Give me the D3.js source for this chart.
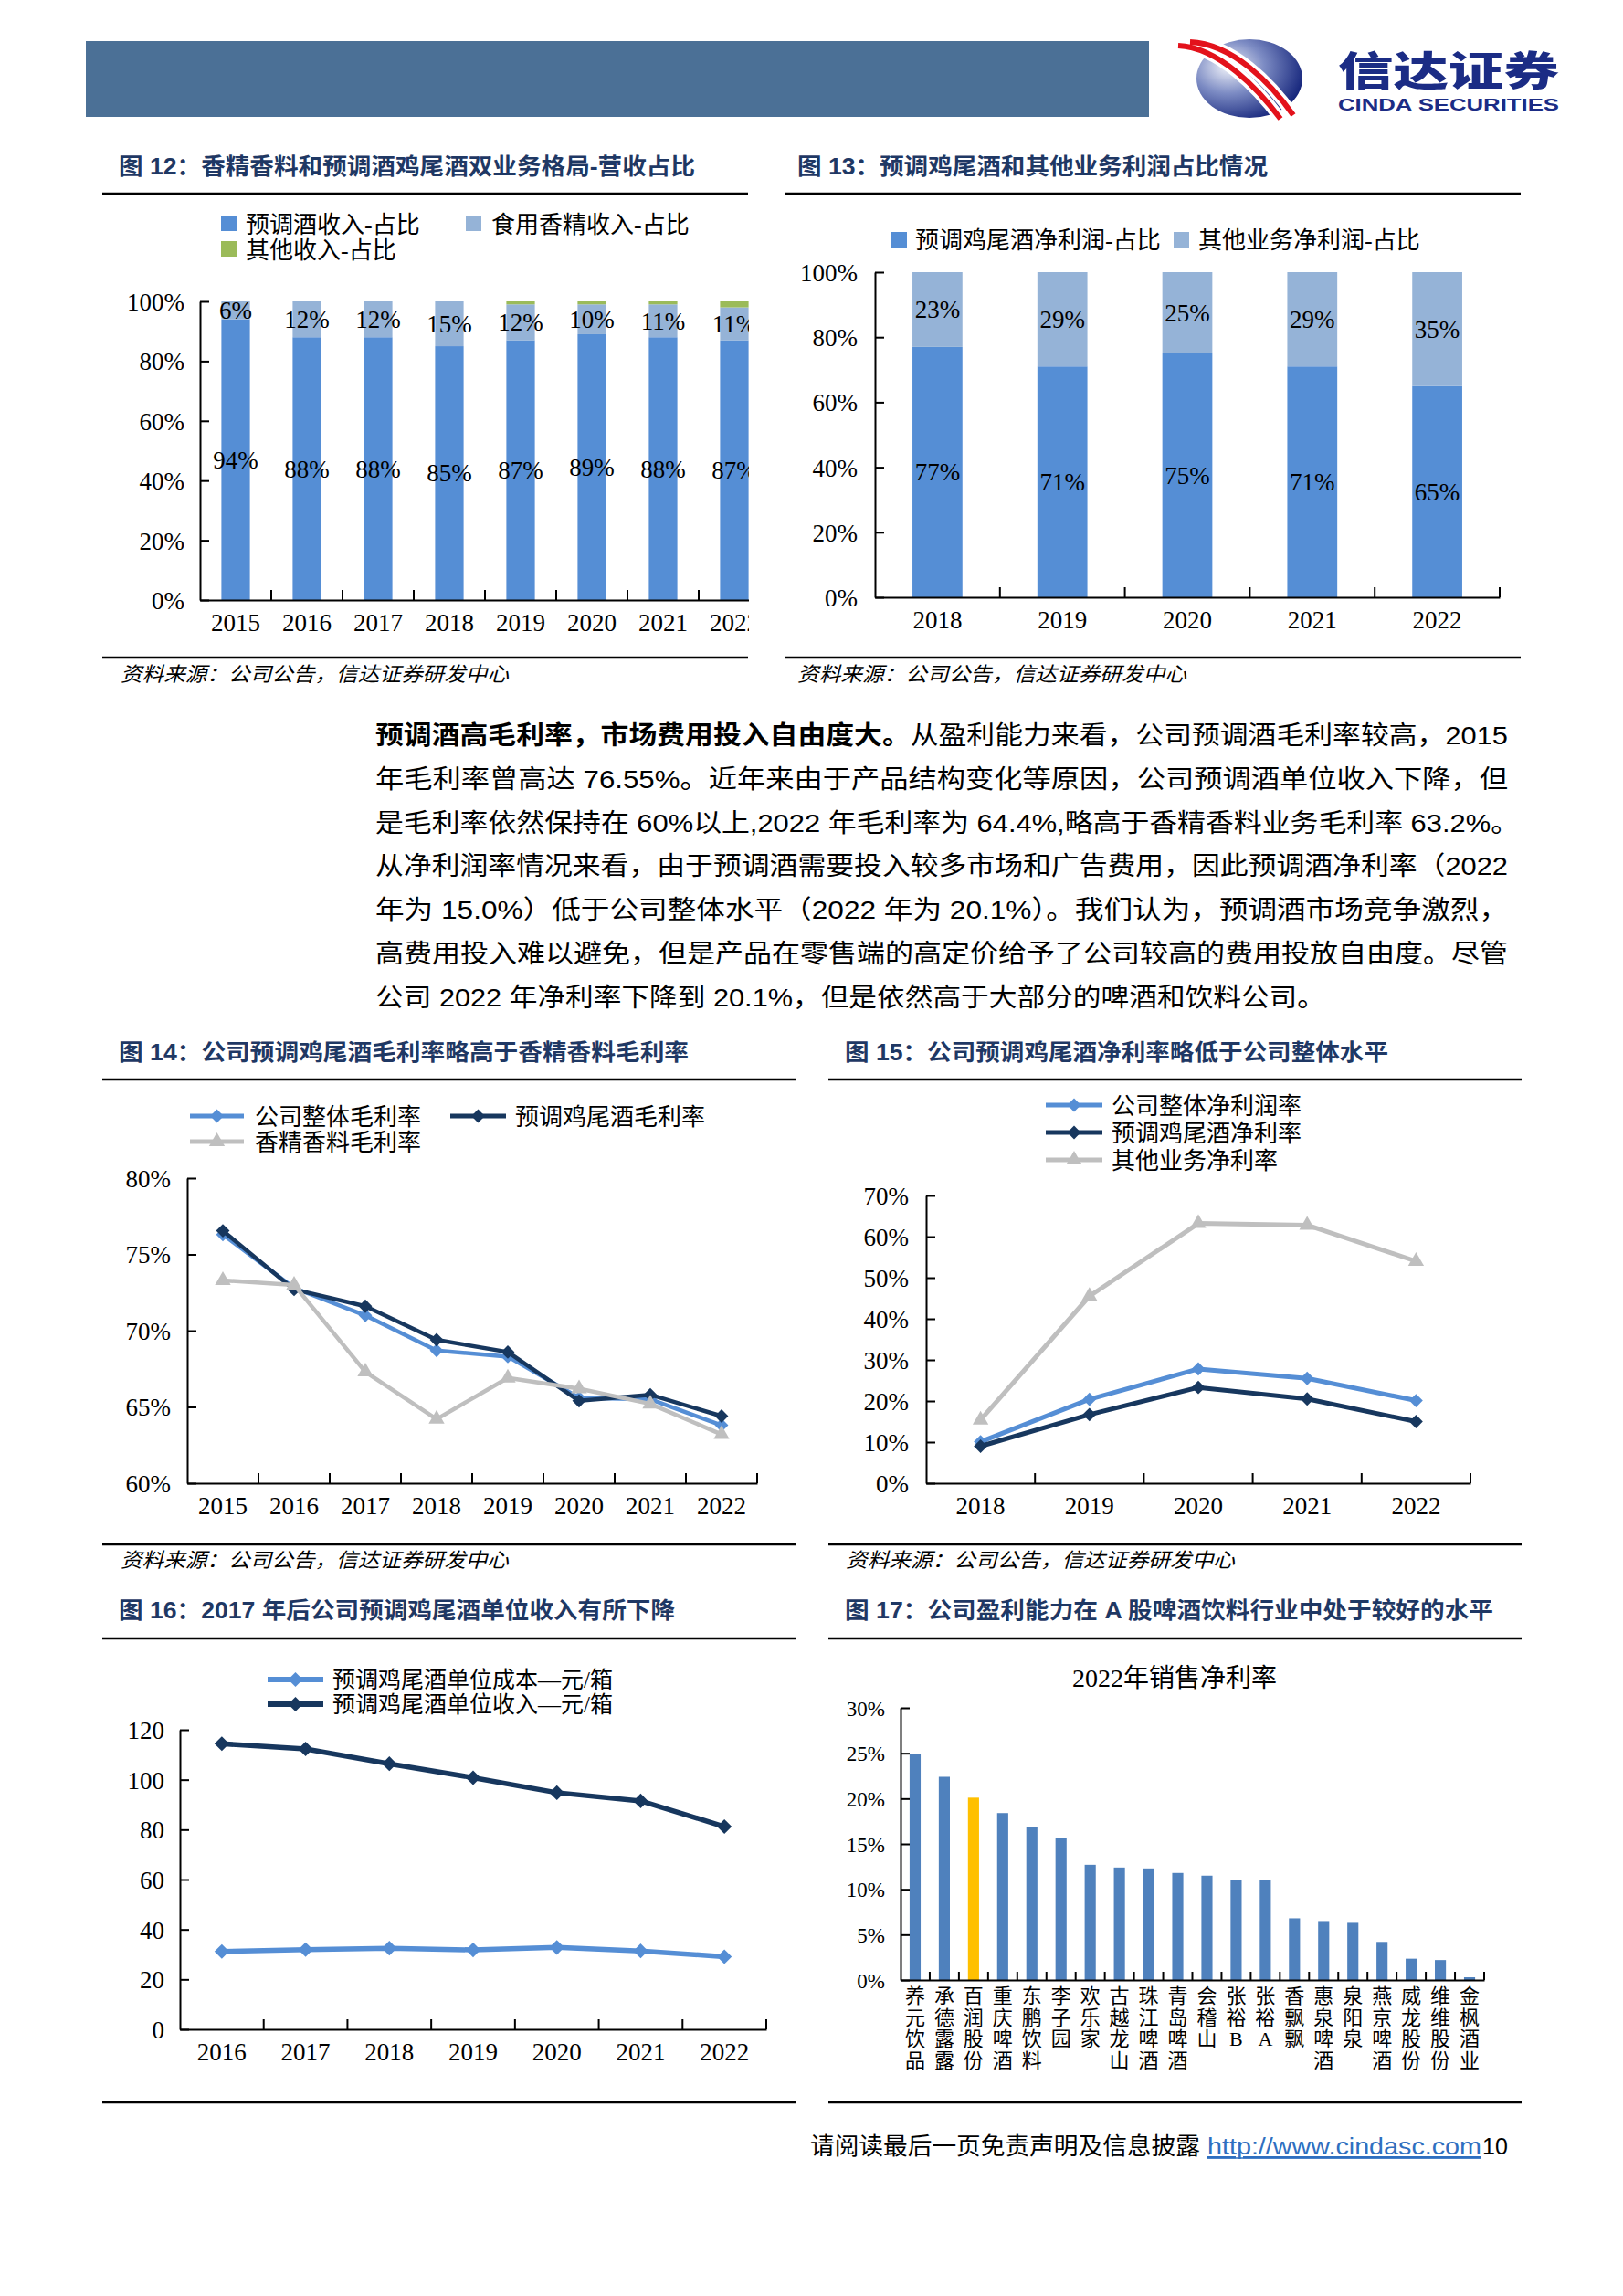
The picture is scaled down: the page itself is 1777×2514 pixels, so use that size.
<!DOCTYPE html>
<html><head><meta charset="utf-8">
<script src="https://cdn.jsdelivr.net/npm/d3@7"></script>
<style>body{margin:0;background:#fff}</style>
</head><body>
<svg id="page" width="1777" height="2514" xmlns="http://www.w3.org/2000/svg"></svg>
<script>
// ---------------- DATA ----------------
const years12 = ["2015","2016","2017","2018","2019","2020","2021","2022"];
const cocktailRev12 = [94,88,88,85,87,89,88,87];
const flavorRev12 = [6,12,12,15,12,10,11,11];
const otherRev12 = [0,0,0,0,1,1,1,2];
const legend12 = ["预调酒收入-占比","食用香精收入-占比","其他收入-占比"];

const years13 = ["2018","2019","2020","2021","2022"];
const cocktailProfit13 = [77,71,75,71,65];
const otherProfit13 = [23,29,25,29,35];
const legend13 = ["预调鸡尾酒净利润-占比","其他业务净利润-占比"];

const years14 = ["2015","2016","2017","2018","2019","2020","2021","2022"];
const overallGM14 = [76.3,72.8,71.0,68.7,68.3,65.6,65.5,63.8];
const cocktailGM14 = [76.55,72.7,71.6,69.4,68.6,65.4,65.8,64.4];
const flavorGM14 = [73.3,73.0,67.3,64.2,66.9,66.2,65.2,63.2];
const legend14 = ["公司整体毛利率","预调鸡尾酒毛利率","香精香料毛利率"];
const yTicks14 = [60,65,70,75,80];

const years15 = ["2018","2019","2020","2021","2022"];
const overallNM15 = [10.1,20.4,27.8,25.5,20.1];
const cocktailNM15 = [9.0,16.7,23.3,20.5,15.0];
const otherNM15 = [15.4,45.5,63.2,62.8,54.0];
const legend15 = ["公司整体净利润率","预调鸡尾酒净利率","其他业务净利率"];
const yTicks15 = [0,10,20,30,40,50,60,70];

const years16 = ["2016","2017","2018","2019","2020","2021","2022"];
const unitCost16 = [31.2,31.9,32.5,31.8,32.8,31.4,29.1];
const unitRevenue16 = [114.4,112.3,106.4,100.8,94.8,91.5,81.2];
const legend16 = ["预调鸡尾酒单位成本—元/箱","预调鸡尾酒单位收入—元/箱"];
const yTicks16 = [0,20,40,60,80,100,120];

const companies17 = ["养元饮品","承德露露","百润股份","重庆啤酒","东鹏饮料","李子园","欢乐家","古越龙山","珠江啤酒","青岛啤酒","会稽山","张裕B","张裕A","香飘飘","惠泉啤酒","泉阳泉","燕京啤酒","威龙股份","维维股份","金枫酒业"];
const netMargin17 = [24.9,22.4,20.1,18.4,16.9,15.7,12.7,12.4,12.3,11.8,11.5,11.0,11.0,6.8,6.5,6.3,4.2,2.35,2.2,0.3];
const highlight17 = "百润股份";
const chartTitle17 = "2022年销售净利率";
const yTicks17 = [0,5,10,15,20,25,30];
const pctTicks = [0,20,40,60,80,100];

const titles = [
  "图 12：香精香料和预调酒鸡尾酒双业务格局-营收占比",
  "图 13：预调鸡尾酒和其他业务利润占比情况",
  "图 14：公司预调鸡尾酒毛利率略高于香精香料毛利率",
  "图 15：公司预调鸡尾酒净利率略低于公司整体水平",
  "图 16：2017 年后公司预调鸡尾酒单位收入有所下降",
  "图 17：公司盈利能力在 A 股啤酒饮料行业中处于较好的水平"
];
const sourceText = "资料来源：公司公告，信达证券研发中心";
const paraBold = "预调酒高毛利率，市场费用投入自由度大。";
const paraLines = [
  "从盈利能力来看，公司预调酒毛利率较高，2015",
  "年毛利率曾高达 76.55%。近年来由于产品结构变化等原因，公司预调酒单位收入下降，但",
  "是毛利率依然保持在 60%以上,2022 年毛利率为 64.4%,略高于香精香料业务毛利率 63.2%。",
  "从净利润率情况来看，由于预调酒需要投入较多市场和广告费用，因此预调酒净利率（2022",
  "年为 15.0%）低于公司整体水平（2022 年为 20.1%）。我们认为，预调酒市场竞争激烈，",
  "高费用投入难以避免，但是产品在零售端的高定价给予了公司较高的费用投放自由度。尽管",
  "公司 2022 年净利率下降到 20.1%，但是依然高于大部分的啤酒和饮料公司。"
];
const footerText = "请阅读最后一页免责声明及信息披露";
const footerUrl = "http://www.cindasc.com";
const pageNo = "10";

// ---------------- STYLE ----------------
const SERIF = "'Liberation Serif','Times New Roman','Noto Sans CJK SC',serif";
const SANS = "'Liberation Sans',Arial,'Noto Sans CJK SC',sans-serif";
const CJK = "'Liberation Serif','Noto Sans CJK SC',sans-serif";
const NAVY_TITLE = "#1F3864";
const BAR_BLUE = "#558ED5", BAR_LIGHT = "#95B3D7", BAR_GREEN = "#9BBB59";
const LINE_LIGHT = "#558ED5", LINE_DARK = "#17375E", LINE_GRAY = "#BFBFBF";
const BAR17 = "#4F81BD", BAR17_HI = "#FFC000";

const svg = d3.select("#page");
svg.append("rect").attr("width",1777).attr("height",2514).attr("fill","#fff");
const defs = svg.append("defs");

// ---------------- HEADER ----------------
svg.append("rect").attr("x",94).attr("y",45).attr("width",1164).attr("height",83).attr("fill","#4B7096");
const rg = defs.append("radialGradient").attr("id","logoGrad").attr("cx","30%").attr("cy","35%").attr("r","75%");
rg.append("stop").attr("offset","0%").attr("stop-color","#F2F4FA");
rg.append("stop").attr("offset","45%").attr("stop-color","#7D8CC4");
rg.append("stop").attr("offset","100%").attr("stop-color","#13237A");
svg.append("ellipse").attr("cx",1368).attr("cy",86).attr("rx",58).attr("ry",43).attr("fill","url(#logoGrad)");
const swoosh = ["M1290,50 C1335,52 1378,98 1402,130","M1303,46 C1350,48 1392,92 1416,126"];
swoosh.forEach(d=>svg.append("path").attr("d",d).attr("fill","none").attr("stroke","#fff").attr("stroke-width",13));
swoosh.forEach(d=>svg.append("path").attr("d",d).attr("fill","none").attr("stroke","#E3121B").attr("stroke-width",6));
svg.append("text").attr("x",1465).attr("y",94).attr("font-family","'Noto Sans CJK SC',sans-serif").attr("font-weight",900)
  .attr("font-size",44).attr("fill","#1B2C85").attr("textLength",242).attr("lengthAdjust","spacingAndGlyphs").text("信达证券");
svg.append("text").attr("x",1465).attr("y",121).attr("font-family","'Liberation Sans',Arial,sans-serif").attr("font-weight","bold")
  .attr("font-size",19).attr("fill","#1B2C85").attr("textLength",242).attr("lengthAdjust","spacingAndGlyphs").text("CINDA SECURITIES");

// ---------------- HELPERS ----------------
function title(x,y,text,w){
  svg.append("text").attr("x",x).attr("y",y).attr("font-family",SANS).attr("font-weight","bold")
    .attr("font-size",25).attr("fill",NAVY_TITLE).attr("textLength",w).attr("lengthAdjust","spacingAndGlyphs").text(text);
}
function rule(x1,x2,y){
  svg.append("line").attr("x1",x1).attr("x2",x2).attr("y1",y).attr("y2",y).attr("stroke","#000").attr("stroke-width",2.5);
}
function source(x,y,w){
  svg.append("text").attr("x",x).attr("y",y).attr("font-family","'Noto Sans CJK SC',sans-serif").attr("font-style","italic")
    .attr("font-size",22).attr("fill","#000").attr("textLength",w).attr("lengthAdjust","spacingAndGlyphs").text(sourceText);
}
function legendText(g,x,cy,text,size){
  g.append("text").attr("x",x).attr("y",cy+ (size||26)*0.37).attr("font-family",CJK).attr("font-size",size||26).attr("fill","#000").text(text);
}
function styleAxis(g,size){
  g.selectAll("path.domain").attr("stroke","#000").attr("stroke-width",2);
  g.selectAll(".tick line").attr("stroke","#000").attr("stroke-width",2);
  g.selectAll("text").attr("font-family",SERIF).attr("font-size",size||27).attr("fill","#000");
}
function yAxis(g,scale,ticks,fmt,x0,pad,size){
  const a = g.append("g").attr("transform",`translate(${x0},0)`)
    .call(d3.axisLeft(scale).tickValues(ticks).tickFormat(fmt).tickSize(-10).tickSizeOuter(0).tickPadding(pad));
  styleAxis(a,size);
  a.selectAll("text").attr("dy","0.35em");
  return a;
}
function xAxisBand(g,scale,y0,pad,size,tickLen){
  const a = g.append("g").attr("transform",`translate(0,${y0})`)
    .call(d3.axisBottom(scale).tickSize(0).tickSizeOuter(0).tickPadding(pad));
  styleAxis(a,size);
  const r0 = scale.range()[0], st = scale.step(), n = scale.domain().length;
  a.selectAll("line.bt").data(d3.range(1,n+1)).join("line").attr("class","bt")
    .attr("x1",i=>r0+st*i).attr("x2",i=>r0+st*i).attr("y1",0).attr("y2",-(tickLen||10))
    .attr("stroke","#000").attr("stroke-width",2);
  return a;
}
function diamond(g,x,y,color,size){
  g.append("path").attr("d",d3.symbol().type(d3.symbolSquare).size(size)())
    .attr("transform",`translate(${x},${y}) rotate(45)`).attr("fill",color);
}
function triangle(g,x,y,color,size){
  g.append("path").attr("d",d3.symbol().type(d3.symbolTriangle).size(size)())
    .attr("transform",`translate(${x},${y})`).attr("fill",color);
}
function lineSeries(g,xs,ys,cats,vals,color,width,marker,msize){
  const pts = cats.map((c,i)=>[xs(c),ys(vals[i])]);
  g.append("path").attr("d",d3.line()(pts)).attr("fill","none").attr("stroke",color)
    .attr("stroke-width",width).attr("stroke-linejoin","round");
  pts.forEach(p=> marker==="tri" ? triangle(g,p[0],p[1],color,msize) : diamond(g,p[0],p[1],color,msize));
}
function legendLine(g,x1,x2,cy,color,width,marker,msize){
  g.append("line").attr("x1",x1).attr("x2",x2).attr("y1",cy).attr("y2",cy).attr("stroke",color).attr("stroke-width",width);
  const mx=(x1+x2)/2;
  marker==="tri" ? triangle(g,mx,cy,color,msize) : diamond(g,mx,cy,color,msize);
}

// ---------------- TITLES / RULES ----------------
title(130,191,titles[0],631);
title(873,191,titles[1],515);
title(130,1161,titles[2],624);
title(925,1161,titles[3],595);
title(130,1772,titles[4],609);
title(925,1772,titles[5],710);
rule(112,819,212); rule(860,1665,212);
rule(112,819,720); rule(860,1665,720);
rule(112,871,1182); rule(907,1666,1182);
rule(112,871,1691); rule(907,1666,1691);
rule(112,871,1794); rule(907,1666,1794);
rule(112,871,2302); rule(907,1666,2302);
source(132,746,425); source(873,746,426);
source(132,1716,425); source(926,1716,426);

// ---------------- FIG 12 ----------------
(function(){
  defs.append("clipPath").attr("id","clip12").append("rect").attr("x",0).attr("y",220).attr("width",820).attr("height",500);
  const g = svg.append("g");
  const lg = g.append("g");
  lg.append("rect").attr("x",242).attr("y",236).attr("width",17).attr("height",17).attr("fill",BAR_BLUE);
  legendText(lg,269,245,legend12[0]);
  lg.append("rect").attr("x",510).attr("y",236).attr("width",17).attr("height",17).attr("fill",BAR_LIGHT);
  legendText(lg,538,245,legend12[1]);
  lg.append("rect").attr("x",242).attr("y",264).attr("width",17).attr("height",17).attr("fill",BAR_GREEN);
  legendText(lg,269,273,legend12[2]);

  const pg = g.append("g").attr("clip-path","url(#clip12)");
  const x = d3.scaleBand().domain(years12).range([219,843]).paddingInner(0.6).paddingOuter(0.3);
  const y = d3.scaleLinear().domain([0,100]).range([657,330]);
  const rows = years12.map((yr,i)=>({year:yr,a:cocktailRev12[i],b:flavorRev12[i],c:otherRev12[i]}));
  const stack = d3.stack().keys(["a","b","c"])(rows);
  const colors = [BAR_BLUE,BAR_LIGHT,BAR_GREEN];
  stack.forEach((s,k)=>{
    pg.selectAll(null).data(s).join("rect").attr("x",d=>x(d.data.year)).attr("width",x.bandwidth())
      .attr("y",d=>y(d[1])).attr("height",d=>y(d[0])-y(d[1])).attr("fill",colors[k]);
  });
  [0,1].forEach(k=>{
    pg.selectAll(null).data(stack[k]).join("text")
      .attr("x",d=>x(d.data.year)+x.bandwidth()/2).attr("y",d=>y((d[0]+d[1])/2)).attr("dy","0.35em")
      .attr("text-anchor","middle").attr("font-family",SERIF).attr("font-size",27).attr("fill","#000")
      .text(d=>(d[1]-d[0])+"%");
  });
  yAxis(pg,y,pctTicks,d=>d+"%",219,17,27);
  xAxisBand(pg,x,657,15,27,11);
})();

// ---------------- FIG 13 ----------------
(function(){
  const g = svg.append("g");
  g.append("rect").attr("x",976).attr("y",254).attr("width",17).attr("height",17).attr("fill",BAR_BLUE);
  legendText(g,1002,262,legend13[0]);
  g.append("rect").attr("x",1285).attr("y",254).attr("width",17).attr("height",17).attr("fill",BAR_LIGHT);
  legendText(g,1312,262,legend13[1]);
  const x = d3.scaleBand().domain(years13).range([958,1642]).paddingInner(0.6).paddingOuter(0.3);
  const y = d3.scaleLinear().domain([0,100]).range([654,298]);
  const rows = years13.map((yr,i)=>({year:yr,a:cocktailProfit13[i],b:otherProfit13[i]}));
  const stack = d3.stack().keys(["a","b"])(rows);
  const colors = [BAR_BLUE,BAR_LIGHT];
  stack.forEach((s,k)=>{
    g.selectAll(null).data(s).join("rect").attr("x",d=>x(d.data.year)).attr("width",x.bandwidth())
      .attr("y",d=>y(d[1])).attr("height",d=>y(d[0])-y(d[1])).attr("fill",colors[k]);
    g.selectAll(null).data(s).join("text")
      .attr("x",d=>x(d.data.year)+x.bandwidth()/2).attr("y",d=>y((d[0]+d[1])/2)).attr("dy","0.35em")
      .attr("text-anchor","middle").attr("font-family",SERIF).attr("font-size",27).attr("fill","#000")
      .text(d=>(d[1]-d[0])+"%");
  });
  yAxis(g,y,pctTicks,d=>d+"%",958,19,27);
  xAxisBand(g,x,654,15,27,11);
})();

// ---------------- PARAGRAPH ----------------
(function(){
  const widths = [1240,1240,1252,1240,1240,1240,1040];
  paraLines.forEach((ln,i)=>{
    const t = svg.append("text").attr("x",411).attr("y",815+i*47.8).attr("font-family",SANS)
      .attr("font-size",28).attr("fill","#000").attr("textLength",widths[i]).attr("lengthAdjust","spacingAndGlyphs");
    if(i===0){ t.append("tspan").attr("font-weight","bold").text(paraBold); }
    t.append("tspan").text(ln);
  });
})();

// ---------------- FIG 14 ----------------
(function(){
  const g = svg.append("g");
  legendLine(g,208,267,1222,LINE_LIGHT,5,"dia",110); legendText(g,279,1222,legend14[0]);
  legendLine(g,493,554,1222,LINE_DARK,5,"dia",110); legendText(g,564,1222,legend14[1]);
  legendLine(g,208,267,1250,LINE_GRAY,5,"tri",130); legendText(g,279,1250,legend14[2]);
  const band = d3.scaleBand().domain(years14).range([205,829]);
  const x = d3.scalePoint().domain(years14).range([205,829]).padding(0.5);
  const y = d3.scaleLinear().domain([60,80]).range([1624,1290]);
  yAxis(g,y,yTicks14,d=>d+"%",205,18,27);
  xAxisBand(g,band,1624,15,27,11);
  lineSeries(g,x,y,years14,overallGM14,LINE_LIGHT,4.5,"dia",110);
  lineSeries(g,x,y,years14,cocktailGM14,LINE_DARK,4.5,"dia",110);
  lineSeries(g,x,y,years14,flavorGM14,LINE_GRAY,4.5,"tri",130);
})();

// ---------------- FIG 15 ----------------
(function(){
  const g = svg.append("g");
  legendLine(g,1145,1207,1210,LINE_LIGHT,5,"dia",110); legendText(g,1217,1210,legend15[0]);
  legendLine(g,1145,1207,1240,LINE_DARK,5,"dia",110); legendText(g,1217,1240,legend15[1]);
  legendLine(g,1145,1207,1270,LINE_GRAY,5,"tri",130); legendText(g,1217,1270,legend15[2]);
  const band = d3.scaleBand().domain(years15).range([1014,1610]);
  const x = d3.scalePoint().domain(years15).range([1014,1610]).padding(0.5);
  const y = d3.scaleLinear().domain([0,70]).range([1624,1309]);
  yAxis(g,y,yTicks15,d=>d+"%",1014,19,27);
  xAxisBand(g,band,1624,15,27,11);
  lineSeries(g,x,y,years15,overallNM15,LINE_LIGHT,5,"dia",110);
  lineSeries(g,x,y,years15,cocktailNM15,LINE_DARK,5,"dia",110);
  lineSeries(g,x,y,years15,otherNM15,LINE_GRAY,5,"tri",130);
})();

// ---------------- FIG 16 ----------------
(function(){
  const g = svg.append("g");
  legendLine(g,293,354,1839,LINE_LIGHT,6,"dia",130); legendText(g,364,1839,legend16[0],25);
  legendLine(g,293,354,1866,LINE_DARK,6,"dia",130); legendText(g,364,1866,legend16[1],25);
  const band = d3.scaleBand().domain(years16).range([197,839]);
  const x = d3.scalePoint().domain(years16).range([197,839]).padding(0.5);
  const y = d3.scaleLinear().domain([0,120]).range([2222,1894]);
  yAxis(g,y,yTicks16,d=>d,197,17,27);
  xAxisBand(g,band,2222,15,27,11);
  lineSeries(g,x,y,years16,unitCost16,LINE_LIGHT,5.5,"dia",130);
  lineSeries(g,x,y,years16,unitRevenue16,LINE_DARK,5.5,"dia",130);
})();

// ---------------- FIG 17 ----------------
(function(){
  const g = svg.append("g");
  g.append("text").attr("x",1286).attr("y",1847).attr("text-anchor","middle").attr("font-family",CJK)
    .attr("font-size",28).attr("fill","#000").text(chartTitle17);
  const x = d3.scaleBand().domain(companies17).range([986,1625]).paddingInner(0.62).paddingOuter(0.31);
  const y = d3.scaleLinear().domain([0,30]).range([2168,1870]);
  g.selectAll(null).data(companies17).join("rect")
    .attr("x",d=>x(d)).attr("width",x.bandwidth())
    .attr("y",(d,i)=>y(netMargin17[i])).attr("height",(d,i)=>y(0)-y(netMargin17[i]))
    .attr("fill",d=>d===highlight17?BAR17_HI:BAR17);
  yAxis(g,y,yTicks17,d=>d+"%",986,17,23);
  const a = xAxisBand(g,x,2168,0,22,9);
  a.selectAll(".tick text").remove();
  companies17.forEach(c=>{
    const cx = x(c)+x.bandwidth()/2;
    const t = g.append("text").attr("text-anchor","middle").attr("font-family",CJK).attr("font-size",22).attr("fill","#000");
    Array.from(c).forEach((ch,k)=>{
      t.append("tspan").attr("x",cx).attr("y",2193+k*23.7).text(ch);
    });
  });
})();

// ---------------- FOOTER ----------------
svg.append("text").attr("x",887).attr("y",2359).attr("font-family","'Noto Sans CJK SC',sans-serif").attr("font-size",26)
  .attr("fill","#000").attr("textLength",427).attr("lengthAdjust","spacingAndGlyphs").text(footerText);
svg.append("text").attr("x",1322).attr("y",2359).attr("font-family","'Liberation Sans',Arial,sans-serif").attr("font-size",25)
  .attr("fill","#2F6FC0").attr("text-decoration","underline").attr("textLength",300).attr("lengthAdjust","spacingAndGlyphs").text(footerUrl);
svg.append("line").attr("x1",1322).attr("x2",1622).attr("y1",2363).attr("y2",2363).attr("stroke","#2F6FC0").attr("stroke-width",1.5);
svg.append("text").attr("x",1623).attr("y",2359).attr("font-family","'Liberation Sans',Arial,sans-serif").attr("font-size",25)
  .attr("fill","#000").text(pageNo);
</script>
</body></html>
